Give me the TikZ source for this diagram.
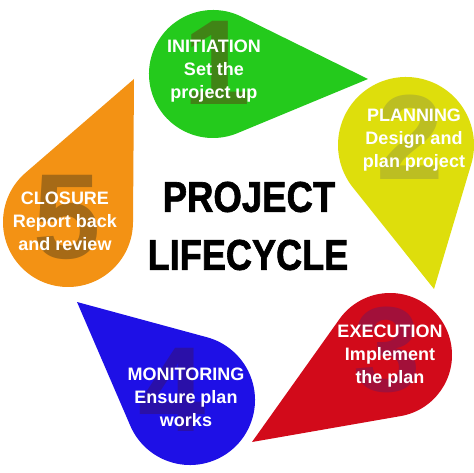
\documentclass[tikz,border=0pt]{standalone}
\usepackage{fontspec}
\setmainfont{Liberation Sans}
\newfontfamily\heavyfont[FakeBold=1.6]{Liberation Sans Bold}
\usetikzlibrary{calc}
\definecolor{initgreen}{RGB}{36,202,28}
\definecolor{initdigit}{RGB}{64,132,22}
\definecolor{planyellow}{RGB}{222,222,12}
\definecolor{plandigit}{RGB}{188,190,34}
\definecolor{execred}{RGB}{210,10,26}
\definecolor{execdigit}{RGB}{162,16,58}
\definecolor{monblue}{RGB}{30,16,230}
\definecolor{mondigit}{RGB}{42,16,168}
\definecolor{closeorange}{RGB}{243,146,20}
\definecolor{closedigit}{RGB}{166,106,22}
\tikzset{
    petal number/.style={inner sep=0pt, font=\fontsize{121}{121}\selectfont\bfseries},
    petal text/.style={text=white, align=center, inner sep=0pt, font=\fontsize{18}{23}\selectfont\bfseries},
    title/.style={inner sep=0pt, font=\fontsize{43}{43}\selectfont\heavyfont}
}
\newcommand{\petal}[5][black]{
    \coordinate (#2-c) at (#3);
    \coordinate (#2-tip) at (#4);
    \fill[#1] let \p1 = ($(#2-tip)-(#2-c)$), \n1 = {atan2(\y1,\x1)}, \n2 = {acos(#5/veclen(\x1,\y1))},
        \n3 = {\n1+\n2}, \n4 = {\n1+360-\n2} in
        (#2-tip) -- ($(#2-c)+(\n3:#5)$) arc[start angle=\n3, end angle=\n4, radius=#5] -- cycle;
}
\newcommand{\petalNumber}[4][black]{
    \path (#3) node[petal number, text=#1] (#2-num) {#4};
}
\newcommand{\petalLabel}[3]{
    \path (#2) node[petal text] (#1-text) {#3};
}

\begin{document}
\begin{tikzpicture}[x=1pt, y=1pt]
	\useasboundingbox (0,0) rectangle (474,472);
	\clip (0,0) rectangle (474,472);
	\fill[white] (0,0) rectangle (474,472);

	\petal[initgreen]{init}{213,398}{368,393}{64};
	\petal[planyellow]{plan}{406,327}{434,183}{68};
	\petal[execred]{exec}{390,117}{252,30}{62};
	\petal[monblue]{mon}{190,72}{77,170}{65};
	\petal[closeorange]{close}{68,250}{134,393}{65};

	\petalNumber[initdigit]{init}{217,409}{1};
	\petalNumber[plandigit]{plan}{410,335}{2};
	\petalNumber[execdigit]{exec}{387,122}{3};
	\petalNumber[mondigit]{mon}{172,82}{4};
	\petalNumber[closedigit]{close}{67,255}{5};

	\petalLabel{init}{214,401}{INITIATION\\Set the\\project up};
	\petalLabel{plan}{414,332}{PLANNING\\Design and\\plan project};
	\petalLabel{exec}{390,116}{EXECUTION\\Implement\\the plan};
	\petalLabel{mon}{186,75}{MONITORING\\Ensure plan\\works};
	\petalLabel{close}{65,251}{CLOSURE\\Report back\\and review};

	\node[title, xscale=0.85] (project) at (249,275) {PROJECT};
	\node[title, xscale=0.84] (lifecycle) at (248,217) {LIFECYCLE};
\end{tikzpicture}
\end{document}
